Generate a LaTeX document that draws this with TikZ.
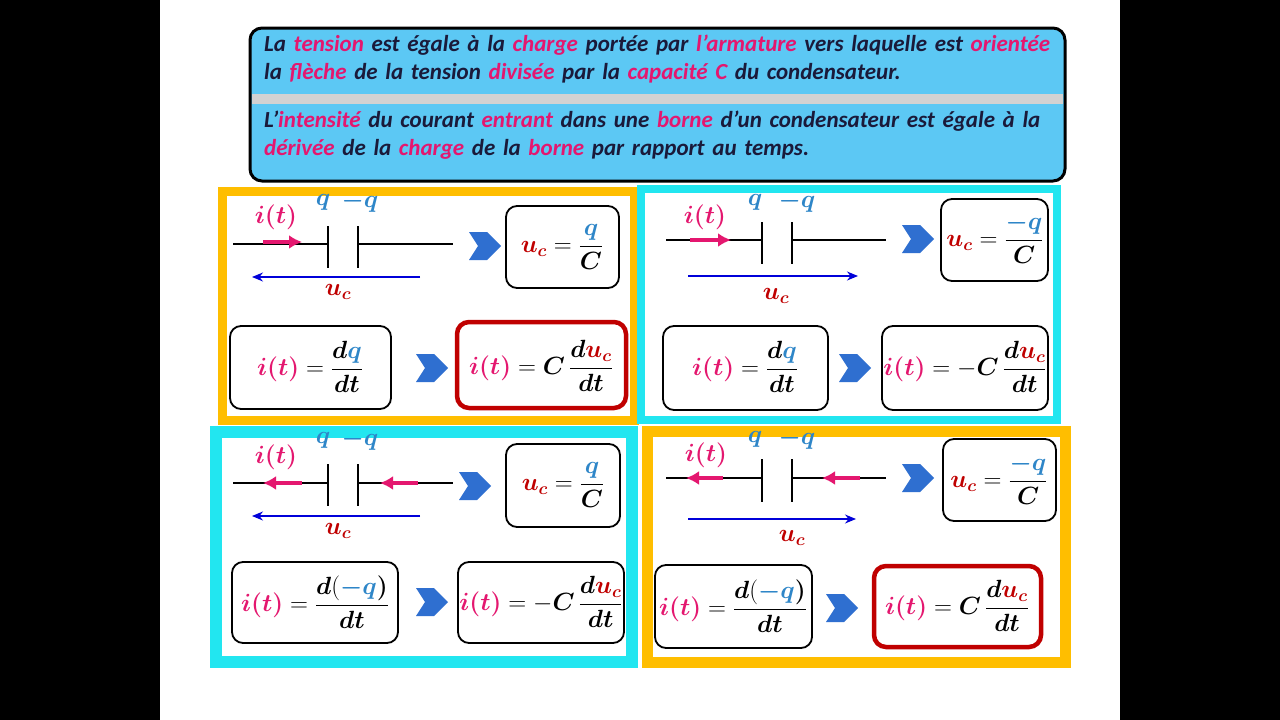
\documentclass[tikz,border=0pt]{standalone}
\usepackage{amsmath,bm}
\usepackage{fontspec}
\setmainfont{Carlito}
\usetikzlibrary{arrows.meta}
\begin{document}
\begin{tikzpicture}[x=1pt,y=-1pt,
  wire/.style={line width=1.2pt},
  plate/.style={line width=2.8pt},
  iarr/.style={line width=3.5pt,draw=mag,-{Latex[length=13pt,width=14pt]}},
  uarr/.style={line width=1.2pt,draw=blue!85!black,-{Stealth[length=11pt,width=9pt]}},
  fbox/.style={draw=black,line width=1.8pt,rounded corners=11pt,fill=white},
  rbox/.style={draw=dred,line width=4.5pt,rounded corners=12pt,fill=white},
  lab/.style={font=\fontsize{25}{28}\selectfont},
  eq/.style={font=\fontsize{27}{30}\selectfont},
  eqs/.style={font=\fontsize{24.5}{28}\selectfont}]
\definecolor{mag}{HTML}{E4176F}
\definecolor{dred}{HTML}{C00000}
\definecolor{qb}{HTML}{2E86C8}
\definecolor{barrowc}{HTML}{2F6FD0}
\definecolor{orng}{HTML}{FFBE00}
\definecolor{cyn}{HTML}{22E6F0}
\definecolor{skyb}{HTML}{5CC8F4}
\definecolor{txt}{HTML}{1A1A3A}
\newcommand{\IT}{\ensuremath{\textcolor{mag}{\bm{i(t)}}}}
\newcommand{\UC}{\ensuremath{\textcolor{dred}{\bm{u_c}}}}
\newcommand{\QQ}{\ensuremath{\textcolor{qb}{\bm{q}}}}
\newcommand{\MQ}{\ensuremath{\textcolor{qb}{\bm{-q}}}}
\newcommand{\BA}[2]{\fill[barrowc] (#1-16,#2-14) -- (#1+2,#2-14) -- (#1+16,#2) -- (#1+2,#2+14) -- (#1-16,#2+14) -- (#1-7,#2) -- cycle;}
\fill[black] (0,0) rectangle (1280,720);
\fill[white] (160,0) rectangle (1120,720);
\useasboundingbox (0,0) rectangle (1280,720);
% top box
\draw[fill=skyb,draw=black,line width=3pt,rounded corners=12pt] (250,28) rectangle (1065,181);
\fill[gray!35] (252,94) rectangle (1063,104);
\node[anchor=north west,text width=800,align=left,inner sep=0,font=\fontsize{23}{28}\selectfont\bfseries\itshape,text=txt] (t1) at (264,35)
 {La \textcolor{mag}{tension} est égale à la \textcolor{mag}{charge} portée par \textcolor{mag}{l’armature} vers laquelle est \textcolor{mag}{orientée}\\ la \textcolor{mag}{flèche} de la tension \textcolor{mag}{divisée} par la \textcolor{mag}{capacité C} du condensateur.};
\node[anchor=north west,text width=800,align=left,inner sep=0,font=\fontsize{23}{28}\selectfont\bfseries\itshape,text=txt] (t2) at (264,111)
 {L’\textcolor{mag}{intensité} du courant \textcolor{mag}{entrant} dans une \textcolor{mag}{borne} d’un condensateur est égale à la\\ \textcolor{mag}{dérivée} de la \textcolor{mag}{charge} de la \textcolor{mag}{borne} par rapport au temps.};
% panel frames
\draw[orng,line width=9pt,fill=white] (222,191) rectangle (634,420);
\draw[cyn,line width=8pt,fill=white] (641,189) rectangle (1057,420);
\draw[cyn,line width=12pt,fill=white] (216,432) rectangle (632,662);
\draw[orng,line width=11pt,fill=white] (647,431) rectangle (1065,662);

% ---------- P1
\draw[wire] (233,244) -- (328,244) (358,244) -- (453,244);
\draw[plate] (328,226) -- (328,268) (358,226) -- (358,268);
\draw[iarr] (263,242) -- (302,242);
\node[lab] (p1i) at (276,217) {\IT};
\node[lab] (p1q) at (323,202) {\QQ};
\node[lab] (p1mq) at (360,202) {\MQ};
\draw[uarr] (420,277) -- (252,277);
\node[lab] (p1u) at (338,292) {\UC};
\BA{485}{246}
\draw[fbox] (506,206) rectangle (619,288);
\node[eq] (p1e1) at (562,247) {$\UC=\dfrac{\QQ}{\bm C}$};
\draw[fbox] (230,326) rectangle (391,409);
\node[eq] (p1e2) at (310,367) {$\IT=\dfrac{\bm d\QQ}{\bm{dt}}$};
\BA{432}{368}
\draw[rbox] (457,322) rectangle (626,408);
\node[eq] (p1e3) at (541,366) {$\IT=\bm C\,\dfrac{\bm d\UC}{\bm{dt}}$};

% ---------- P2
\draw[wire] (666,240) -- (762,240) (792,240) -- (886,240);
\draw[plate] (762,222) -- (762,264) (792,222) -- (792,264);
\draw[iarr] (690,240) -- (731,240);
\node[lab] (p2i) at (705,217) {\IT};
\node[lab] (p2q) at (755,202) {\QQ};
\node[lab] (p2mq) at (797,202) {\MQ};
\draw[uarr] (688,276) -- (858,276);
\node[lab] (p2u) at (776,296) {\UC};
\BA{918}{239}
\draw[fbox] (941,199) rectangle (1048,281);
\node[eqs] (p2e1) at (995,239) {$\UC=\dfrac{\MQ}{\bm C}$};
\draw[fbox] (663,326) rectangle (828,410);
\node[eq] (p2e2) at (745,367) {$\IT=\dfrac{\bm d\QQ}{\bm{dt}}$};
\BA{855}{368}
\draw[fbox] (882,326) rectangle (1048,410);
\node[eqs] (p2e3) at (965,367) {$\IT=-\bm C\,\dfrac{\bm d\UC}{\bm{dt}}$};

% ---------- P3
\draw[wire] (233,483) -- (328,483) (358,483) -- (453,483);
\draw[plate] (328,464) -- (328,506) (358,464) -- (358,506);
\draw[iarr] (302,483) -- (263,483);
\draw[iarr] (418,483) -- (380,483);
\node[lab] (p3i) at (276,457) {\IT};
\node[lab] (p3q) at (323,440) {\QQ};
\node[lab] (p3mq) at (360,440) {\MQ};
\draw[uarr] (420,516) -- (252,516);
\node[lab] (p3u) at (338,531) {\UC};
\BA{475}{486}
\draw[fbox] (506,444) rectangle (620,527);
\node[eq] (p3e1) at (563,485) {$\UC=\dfrac{\QQ}{\bm C}$};
\draw[fbox] (232,562) rectangle (398,643);
\node[eqs] (p3e2) at (315,602) {$\IT=\dfrac{\bm d(\MQ\bm{)}}{\bm{dt}}$};
\BA{432}{602}
\draw[fbox] (458,562) rectangle (624,643);
\node[eqs] (p3e3) at (541,602) {$\IT=-\bm C\,\dfrac{\bm d\UC}{\bm{dt}}$};

% ---------- P4
\draw[wire] (666,478) -- (762,478) (792,478) -- (886,478);
\draw[plate] (762,459) -- (762,502) (792,459) -- (792,502);
\draw[iarr] (723,478) -- (686,478);
\draw[iarr] (860,478) -- (822,478);
\node[lab] (p4i) at (706,455) {\IT};
\node[lab] (p4q) at (755,439) {\QQ};
\node[lab] (p4mq) at (797,439) {\MQ};
\draw[uarr] (688,519) -- (856,519);
\node[lab] (p4u) at (792,538) {\UC};
\BA{918}{478}
\draw[fbox] (943,439) rectangle (1056,521);
\node[eqs] (p4e1) at (999,480) {$\UC=\dfrac{\MQ}{\bm C}$};
\draw[fbox] (655,565) rectangle (812,648);
\node[eqs] (p4e2) at (733,606) {$\IT=\dfrac{\bm d(\MQ\bm{)}}{\bm{dt}}$};
\BA{842}{608}
\draw[rbox] (874,566) rectangle (1041,647);
\node[eq] (p4e3) at (957,606) {$\IT=\bm C\,\dfrac{\bm d\UC}{\bm{dt}}$};
\end{tikzpicture}
\end{document}
